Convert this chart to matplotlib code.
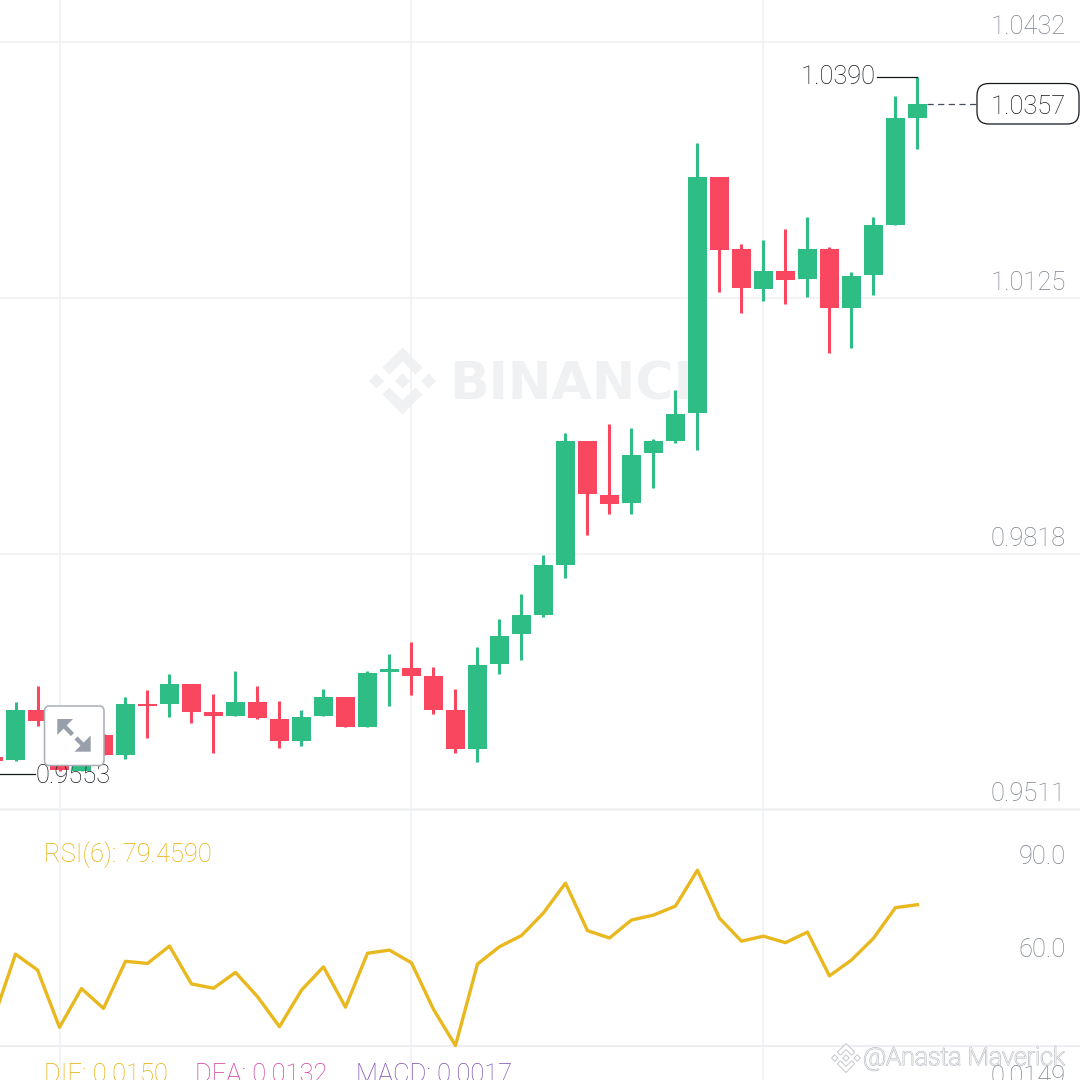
import numpy as np
import matplotlib
matplotlib.use("Agg")
import matplotlib.pyplot as plt
import matplotlib.patheffects as pe
from matplotlib.patches import FancyBboxPatch, Polygon

plt.rcParams['font.family'] = ['Roboto', 'DejaVu Sans']
plt.rcParams['font.weight'] = 'light'

opens = [.9574, .9570, .9630, .9616, .9557, .9600, .9576, .9638, .9637, .9661, .9628, .9623, .9640, .9620, .9593,
         .9623, .9646, .9610, .9676, .9681, .9671, .9630, .9584, .9685, .9721, .9744, .9804, .9953, .9888, .9879,
         .9938, .9953, .9987, 1.0269, 1.0183, 1.0135, 1.0157, 1.0147, 1.0183, 1.0112, 1.0152, 1.0212, 1.0340]
highs = [.9574, .9640, .9659, .9617, .9602, .9602, .9646, .9654, .9673, .9661, .9650, .9677, .9659, .9641, .9630,
         .9656, .9646, .9677, .9697, .9712, .9682, .9656, .9706, .9739, .9770, .9816, .9962, .9953, .9973, .9968,
         .9955, 1.0014, 1.0310, 1.0270, 1.0189, 1.0194, 1.0207, 1.0222, 1.0185, 1.0156, 1.0222, 1.0367, 1.0390]
lows = [.9569, .9569, .9611, .9557, .9557, .9576, .9571, .9597, .9622, .9615, .9579, .9623, .9619, .9585, .9587,
        .9623, .9610, .9610, .9635, .9648, .9625, .9579, .9568, .9673, .9690, .9742, .9789, .9840, .9865, .9865,
        .9897, .9950, .9942, 1.0131, 1.0107, 1.0121, 1.0117, 1.0126, 1.0059, 1.0064, 1.0128, 1.0212, 1.0303]
closes = [.9569, .9630, .9617, .9558, .9600, .9576, .9638, .9635, .9661, .9628, .9623, .9640, .9621, .9593, .9622,
          .9646, .9610, .9675, .9680, .9671, .9630, .9583, .9684, .9719, .9744, .9804, .9953, .9889, .9877, .9936,
          .9953, .9985, 1.0270, 1.0182, 1.0136, 1.0157, 1.0146, 1.0183, 1.0112, 1.0151, 1.0212, 1.0340, 1.0357]
rsi = [42.6, 63.5, 58.4, 39.9, 52.4, 46.0, 61.2, 60.5, 66.1, 53.9, 52.5, 57.6, 49.8, 40.1, 51.9, 59.4, 46.4, 63.8,
       64.8, 60.7, 45.7, 34.0, 60.3, 65.9, 69.5, 76.8, 86.4, 71.1, 68.7, 74.5, 76.1, 79.0, 90.6, 75.1, 67.7, 69.3,
       67.2, 70.6, 56.5, 61.6, 68.6, 78.5, 79.459]
price_ticks = [1.0432, 1.0125, 0.9818, 0.9511]
rsi_ticks = [90.0, 60.0]
macd_tick = "0.0149"
grid_x = [3, 19, 35]
high_label = 1.0390
low_label = 0.9553
last_price = 1.0357

GREEN = '#2ebd85'
RED = '#fa4760'
GRID = '#eff0f2'
GRAY = '#7a828e'
DARK = '#14181d'
LINE = '#e9b81f'
FS = 18.4


def ax_box(top, bottom):
    return [0, (1080 - bottom) / 1080, 1, (bottom - top) / 1080]


def logo(ax, cx, cy, r, **kw):
    # binance mark: three small diamonds and two chevrons
    s = r / 33.5
    shapes = [
        [(0, -7.5), (7.5, 0), (0, 7.5), (-7.5, 0)],
        [(-33.5, 0), (-26, -7.5), (-18.5, 0), (-26, 7.5)],
        [(33.5, 0), (26, -7.5), (18.5, 0), (26, 7.5)],
        [(0, -33.5), (20, -13.5), (13, -6.5), (0, -19.5), (-13, -6.5), (-20, -13.5)],
        [(0, 33.5), (20, 13.5), (13, 6.5), (0, 19.5), (-13, 6.5), (-20, 13.5)],
    ]
    for sh in shapes:
        ax.add_patch(Polygon([(cx + a * s, cy + b * s) for a, b in sh], closed=True, **kw))


fig = plt.figure(figsize=(10.8, 10.8), dpi=100, facecolor='white')

# pixel axes under the chart, for the big watermark
under = fig.add_axes([0, 0, 1, 1], zorder=0)
under.set_xlim(0, 1080)
under.set_ylim(1080, 0)
under.axis('off')
logo(under, 402.5, 381, 33.5, fc='#f0f1f2', ec='none')
under.text(449, 399, "BINANCE", fontsize=37.5, fontweight='bold', family=['DejaVu Sans'],
           color='#f0f1f2', va='baseline', ha='left')

x = np.arange(len(opens))
xlim = (0.295, 49.39)

ax = fig.add_axes(ax_box(0, 810), zorder=1, facecolor='none')
ax.set_xlim(*xlim)
ax.set_ylim(0.95104, 1.048177)
ax.set_xticks(grid_x)
ax.set_yticks(price_ticks)
ax.grid(True, color=GRID, lw=1.1)
ax.set_axisbelow(True)
ax.tick_params(length=0, labelleft=False, labelbottom=False)
for name, sp in ax.spines.items():
    sp.set_visible(name == 'bottom')
    sp.set_color(GRID)
    sp.set_linewidth(1.1)

colors = [GREEN if c >= o else RED for o, c in zip(opens, closes)]
ax.vlines(x, lows, highs, colors=colors, lw=2.2, capstyle='butt', zorder=3)
ax.bar(x, np.array(closes) - np.array(opens), bottom=opens, width=0.88, color=colors, zorder=3)

for t in price_ticks:
    ax.annotate(f"{t:.4f}", xy=(1, t), xycoords=('axes fraction', 'data'), xytext=(-14, 15), textcoords='offset pixels',
                ha='right', va='center', fontsize=FS, color=GRAY)

# high / low / last price marks
ax.plot([40.16, 42], [high_label, high_label], color=DARK, lw=0.9, zorder=4)
ax.vlines(42, high_label - 0.0001, high_label, color=GREEN, lw=2.2, zorder=5)
ax.text(40.1, high_label, f"{high_label:.4f}", ha='right', va='center', fontsize=FS, color=DARK)
ax.plot([0.295, 1.88], [low_label, low_label], color=DARK, lw=0.9, zorder=4)
ax.annotate(f"{low_label:.4f}", xy=(1.9, low_label), xytext=(0, -2), textcoords='offset pixels',
            ha='left', va='center', fontsize=FS, color=DARK, zorder=6)
ax.plot([42.45, 44.7], [last_price, last_price], color='#474d57', lw=0.9, dashes=(5, 3.5), zorder=4)

ax_rsi = fig.add_axes(ax_box(810, 1046), zorder=2, facecolor='none')
ax_rsi.set_xlim(*xlim)
ax_rsi.set_ylim(33.87, 110)
ax_rsi.set_xticks(grid_x)
ax_rsi.set_yticks([])
ax_rsi.grid(True, axis='x', color=GRID, lw=1.1)
ax_rsi.set_axisbelow(True)
ax_rsi.tick_params(length=0, labelbottom=False)
for name, sp in ax_rsi.spines.items():
    sp.set_visible(name == 'bottom')
    sp.set_color('#eeeef3')
    sp.set_linewidth(1.5)
ax_rsi.plot(x, rsi, color=LINE, lw=2.4, clip_on=False, zorder=3)
for t in rsi_ticks:
    ax_rsi.annotate(f"{t:.1f}", xy=(1, t), xycoords=('axes fraction', 'data'), xytext=(-14, 15), textcoords='offset pixels',
                    ha='right', va='center', fontsize=FS, color=GRAY)
ax_rsi.text(44 / 1080, 0.81, f"RSI(6): {rsi[-1]:.4f}", transform=ax_rsi.transAxes, ha='left', va='center',
            fontsize=FS, color='#e8ae00')

ax_macd = fig.add_axes(ax_box(1046, 1080), zorder=2, facecolor='none')
ax_macd.set_xlim(*xlim)
ax_macd.set_xticks(grid_x)
ax_macd.set_yticks([])
ax_macd.grid(True, axis='x', color=GRID, lw=1.1)
ax_macd.tick_params(length=0, labelbottom=False)
for sp in ax_macd.spines.values():
    sp.set_visible(False)

# pixel overlay: price box, expand button, footer text
over = fig.add_axes([0, 0, 1, 1], zorder=5, facecolor='none')
over.set_xlim(0, 1080)
over.set_ylim(1080, 0)
over.axis('off')

over.add_patch(FancyBboxPatch((977 + 12, 83.5 + 12), 102 - 24, 40.5 - 24, boxstyle="round,pad=12,rounding_size=12",
                              fc='white', ec=DARK, lw=0.9))
over.text(1066, 106.5, f"{last_price:.4f}", ha='right', va='center', fontsize=FS, color=DARK)

over.add_patch(FancyBboxPatch((44.5 + 5, 706 + 5), 59.5 - 10, 59.5 - 10, boxstyle="round,pad=5,rounding_size=5",
                              fc='white', ec='#a9adb5', lw=1.1))
ARROW = '#9aa0ab'
over.add_patch(Polygon([(57.3, 719), (73, 719), (57.3, 735)], closed=True, fc=ARROW, ec='none'))
over.add_patch(Polygon([(90.7, 751.7), (74.5, 751.7), (90.7, 735.5)], closed=True, fc=ARROW, ec='none'))
over.plot([63, 72.5], [725, 734.5], color=ARROW, lw=3.2, solid_capstyle='butt')
over.plot([76, 85], [738, 747], color=ARROW, lw=3.2, solid_capstyle='butt')

footer = [(44, "DIF: 0.0150", '#e8ae00'), (195, "DEA: 0.0132", '#d23a9e'), (356, "MACD: 0.0017", '#7c50b4')]
for fx, txt, col in footer:
    over.text(fx, 1075, txt, ha='left', va='center', fontsize=FS, color=col)
over.text(1066, 1077, macd_tick, ha='right', va='center', fontsize=FS, color=GRAY)

logo(over, 846, 1058, 14.5, fc='white', ec='#c4c7cc', lw=0.7)
over.text(863, 1058, "@Anasta Maverick", ha='left', va='center', fontsize=18.0, color='white',
          path_effects=[pe.withStroke(linewidth=1.0, foreground='#bfc3c9')])

fig.savefig("out.png", dpi=100, facecolor='white')
